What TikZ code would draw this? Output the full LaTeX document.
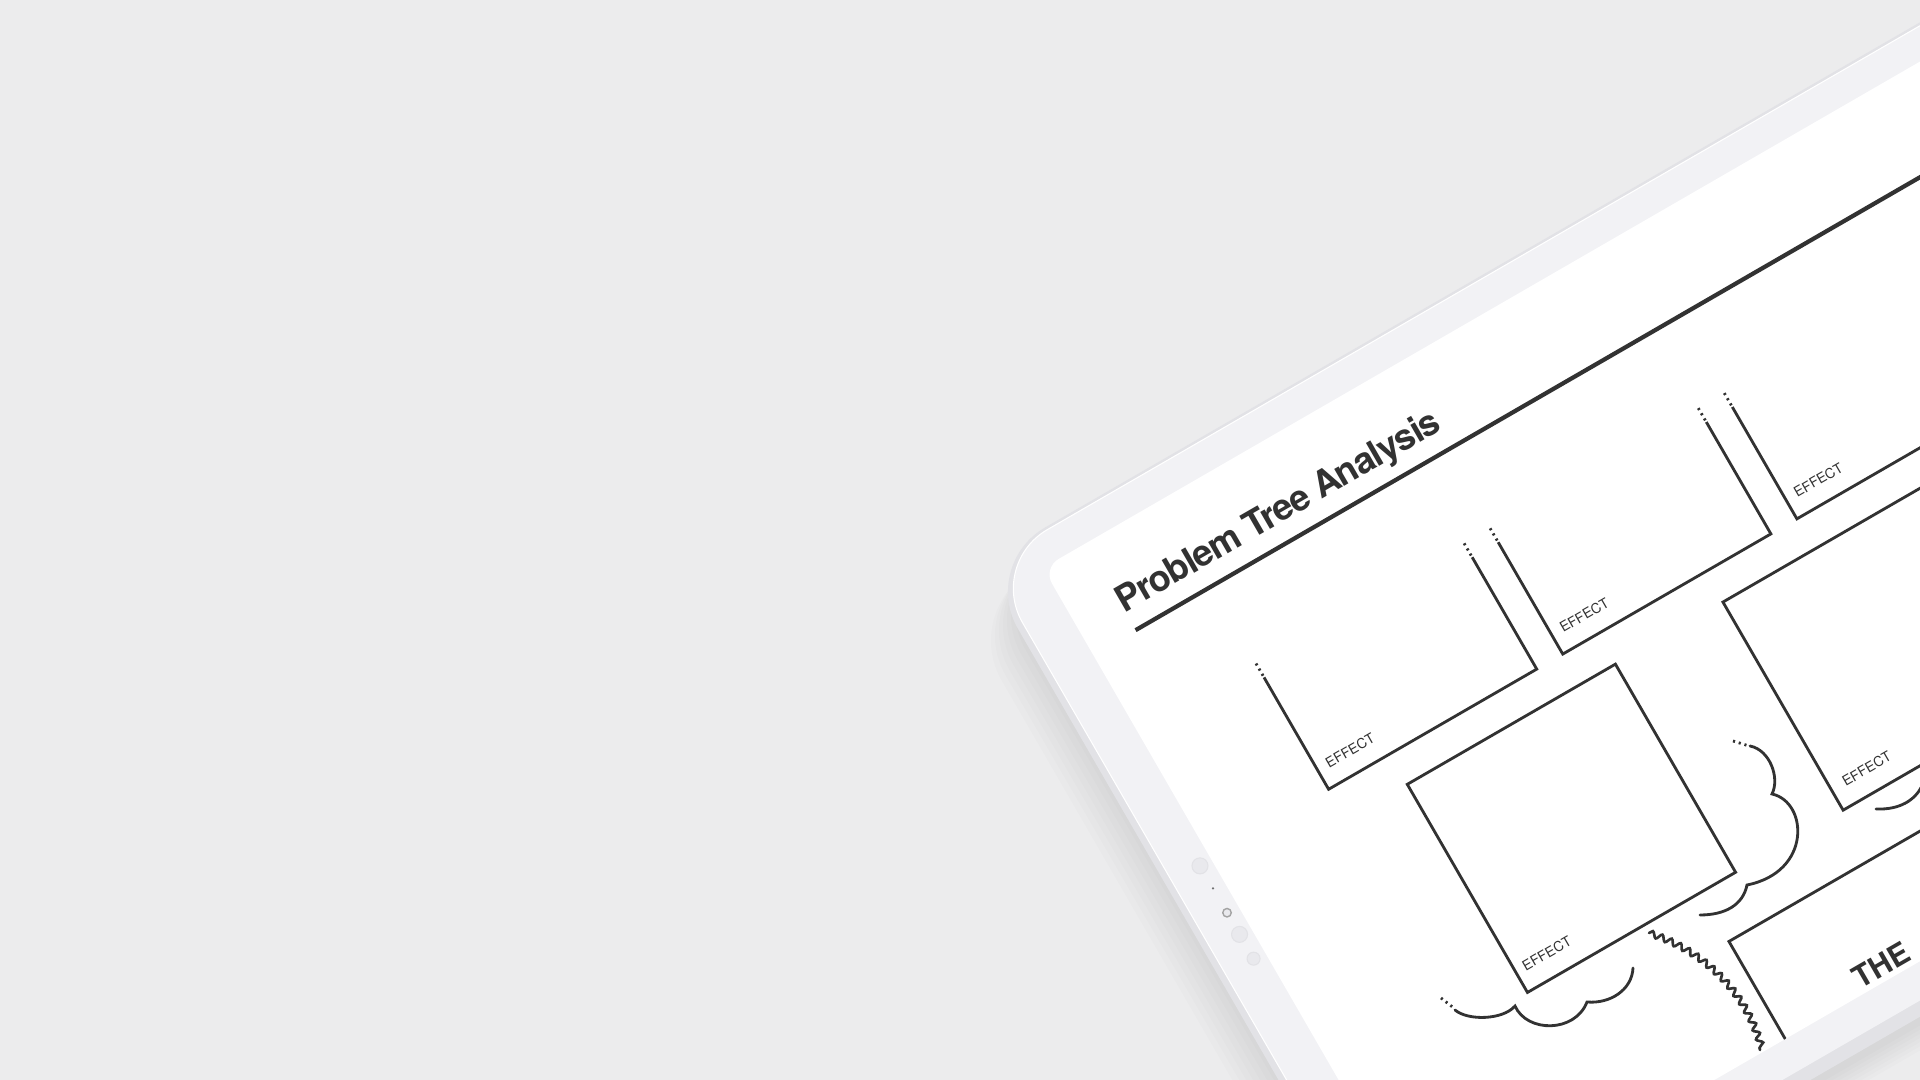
\documentclass[tikz,border=0pt]{standalone}
\usepackage{fontspec}
\setmainfont{TeX Gyre Heros}
\usetikzlibrary{decorations.pathmorphing}

\definecolor{backdrop}{RGB}{236,236,237}
\definecolor{bezel}{RGB}{242,242,245}
\definecolor{rim}{RGB}{226,226,230}
\definecolor{ink}{RGB}{50,50,50}
\definecolor{knob}{RGB}{233,233,237}

\begin{document}
\begin{tikzpicture}
[x=0.01cm, y=-0.01cm,
boxline/.style={draw=ink, line width=0.8pt, line join=miter},
leader/.style={draw=ink, line width=0.8pt, dash pattern=on 0.6pt off 1.1pt},
effect/.style={inner sep=0pt, text=ink, rotate=30, font=\fontsize{3.95}{4.5}\selectfont},
heading/.style={inner sep=0pt, text=ink, rotate=30, font=\fontsize{10.3}{12}\selectfont\bfseries\addfontfeatures{LetterSpace=-3}},
doodle/.style={draw=ink, line width=0.8pt, line cap=round},
button/.style={circle, fill=knob, draw=rim, line width=0.3pt, inner sep=0pt}]

\fill[backdrop] (0,0) rectangle (1920,1080);
\useasboundingbox (0,0) rectangle (1920,1080);

% tablet, in the frame of its screen (rectangles written as paths, the frame is turned)
\begin{scope}[shift={(1043,568)}, x={(0.00866cm,0.005cm)}, y={(0.005cm,-0.00866cm)}]
  % soft shadow
  \foreach \s in {6,12,...,42}
    \fill[black, opacity=0.012, rounded corners=0.8cm]
      (-50-\s,-20+0.4*\s) -- (1400,-20+0.4*\s) -- (1400,830+0.6*\s) -- (-50-\s,830+0.6*\s) -- cycle;
  % body and bezel
  \fill[rim, rounded corners=0.74cm] (-52,-34) -- (1400,-34) -- (1400,826) -- (-52,826) -- cycle;
  \fill[bezel, rounded corners=0.68cm] (-45,-31) -- (1400,-31) -- (1400,812) -- (-45,812) -- cycle;
  \draw[white, line width=0.3pt, rounded corners=0.68cm] (-45,812) -- (-45,-31) -- (1400,-31);
  \fill[white, rounded corners=0.18cm] (0,0) -- (1400,0) -- (1400,778) -- (0,778) -- cycle;

  % side buttons
  \node[button, minimum size=0.16cm] (knobA) at (-13,336) {};
  \node[circle, fill=ink!70, inner sep=0pt, minimum size=0.025cm] (knobB) at (-13,362) {};
  \node[button, minimum size=0.085cm, draw=ink!45, line width=0.4pt] (knobC) at (-13,390) {};
  \node[button, minimum size=0.16cm] (knobD) at (-13,415) {};
  \node[button, minimum size=0.13cm] (knobE) at (-13,443) {};

  \begin{scope}
  \clip[rounded corners=0.18cm] (0,0) -- (1400,0) -- (1400,778) -- (0,778) -- cycle;

  % title
  \node[heading, anchor=base west] (title) at (47,80) {Problem Tree Analysis};
  \draw[ink, line width=1.2pt] (49,100) -- (1100,100);

  % effects, top row
  \foreach \u/\n in {136.5/1,406.5/2,676.5/3} {
    \draw[boxline] (\u,205) -- (\u,334) -- (\u+240,334) -- (\u+240,205);
    \draw[leader] (\u,189) -- (\u,204);
    \draw[leader] (\u+240,189) -- (\u+240,204);
    \node[effect] (effect\n) at (\u+38,311) {EFFECT};
  }

  % effects, second row
  \draw[boxline] (207,369) -- (447,369) -- (447,609) -- (207,609) -- cycle;
  \node[effect] (effect4) at (243,585) {EFFECT};
  \draw[boxline] (571,369) -- (811,369) -- (811,609) -- (571,609) -- cycle;
  \node[effect] (effect5) at (612,585) {EFFECT};

  % the problem
  \draw[boxline] (406.7,800) -- (406.7,665.5) -- (1100,665.5);
  \node[heading, font=\fontsize{8.6}{10}\selectfont\bfseries] (problem) at (527,762) {THE};
  \end{scope}
\end{scope}

% roots and scribbles
\draw[leader] (1441,998) -- (1455,1009);
\draw[doodle] (1455,1010) .. controls (1468,1021) and (1503,1020) .. (1515,1006)
  .. controls (1527,1033) and (1575,1033) .. (1587,1002)
  .. controls (1610,1004) and (1632,990) .. (1633,968);
\draw[leader] (1733,741) -- (1749,746);
\draw[doodle] (1750,746) .. controls (1770,750) and (1780,778) .. (1772,794)
  .. controls (1808,802) and (1812,872) .. (1747,885)
  .. controls (1743,905) and (1725,915) .. (1700,915);
\draw[doodle] (1876,809) .. controls (1900,810) and (1915,800) .. (1922,786);
\draw[doodle, line width=0.75pt, decorate, decoration={snake, segment length=0.1cm, amplitude=0.03cm}]
  (1649,933) .. controls (1700,950) and (1745,990) .. (1760,1050);
\end{tikzpicture}
\end{document}
